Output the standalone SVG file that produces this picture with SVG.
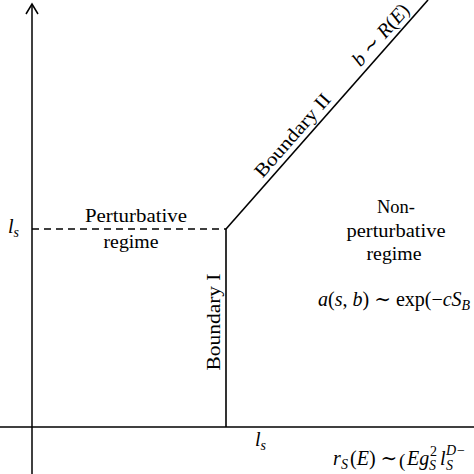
<svg xmlns="http://www.w3.org/2000/svg" width="474" height="474" viewBox="0 0 474 474">
<style>
.ax{stroke:#000;stroke-width:1.5;fill:none}
.ln{stroke:#000;stroke-width:1.6;fill:none}
text{font-family:"Liberation Serif","DejaVu Serif",serif;font-size:19px;fill:#000}
.f{font-size:20px}
.m{font-style:italic}
.sub{font-size:14px}
</style>
<rect width="474" height="474" fill="#fff"/>
<g id="connectors">
<line class="ax" x1="32" y1="474" x2="32" y2="4"/>
<polyline class="ax" points="26,14 32,4 38,14"/>
<line class="ax" x1="0" y1="427" x2="474" y2="427"/>
<line class="ln" x1="32" y1="229" x2="226" y2="229" stroke-dasharray="7,5"/>
<line class="ln" x1="226" y1="229" x2="226" y2="427"/>
<line class="ln" x1="226" y1="229" x2="428" y2="0"/>
</g>
<g id="axis-labels">
<text x="8" y="233" class="m f">l<tspan class="sub" dy="4">s</tspan></text>
<text x="255" y="446" class="m f">l<tspan class="sub" dy="4">s</tspan></text>
</g>
<g id="perturbative">
<text x="136" y="222" text-anchor="middle" textLength="102" lengthAdjust="spacingAndGlyphs">Perturbative</text>
<text x="131" y="248" text-anchor="middle" textLength="55" lengthAdjust="spacingAndGlyphs">regime</text>
</g>
<g id="nonperturbative">
<text x="396" y="213" text-anchor="middle" textLength="38" lengthAdjust="spacingAndGlyphs">Non-</text>
<text x="396" y="237" text-anchor="middle" textLength="99" lengthAdjust="spacingAndGlyphs">perturbative</text>
<text x="394" y="260" text-anchor="middle" textLength="55" lengthAdjust="spacingAndGlyphs">regime</text>
</g>
<g id="boundary1">
<text transform="translate(220,322) rotate(-90)" text-anchor="middle" textLength="97" lengthAdjust="spacingAndGlyphs">Boundary I</text>
</g>
<g id="boundary2">
<text transform="translate(301.6,143.4) rotate(-48.6)" x="0" y="-6" text-anchor="middle" textLength="105" lengthAdjust="spacingAndGlyphs">Boundary II</text>
<text transform="translate(390,43) rotate(-48.6)" x="0" y="-6" text-anchor="middle" class="f" textLength="76" lengthAdjust="spacingAndGlyphs"><tspan class="m">b</tspan> ∼ <tspan class="m">R</tspan>(<tspan class="m">E</tspan>)</text>
</g>
<g id="formulas">
<text x="318" y="306" class="f"><tspan class="m">a</tspan>(<tspan class="m">s</tspan>, <tspan class="m">b</tspan>) ∼ exp(−<tspan class="m">cS</tspan><tspan class="sub m" dy="4">B</tspan></text>
<text x="333" y="465" class="f m">r</text>
<text x="341" y="469" class="sub m">S</text>
<text x="350" y="465" class="f">(<tspan class="m">E</tspan>) ∼</text>
<text x="399" y="467" font-size="26">(</text>
<text x="407" y="465" class="f m">Eg</text>
<text x="429" y="470" class="sub m">S</text>
<text x="430" y="456" class="sub">2</text>
<text x="440" y="465" class="f m">l</text>
<text x="446" y="470" class="sub m">S</text>
<text x="446" y="455" class="sub m">D−</text>
</g>
</svg>
